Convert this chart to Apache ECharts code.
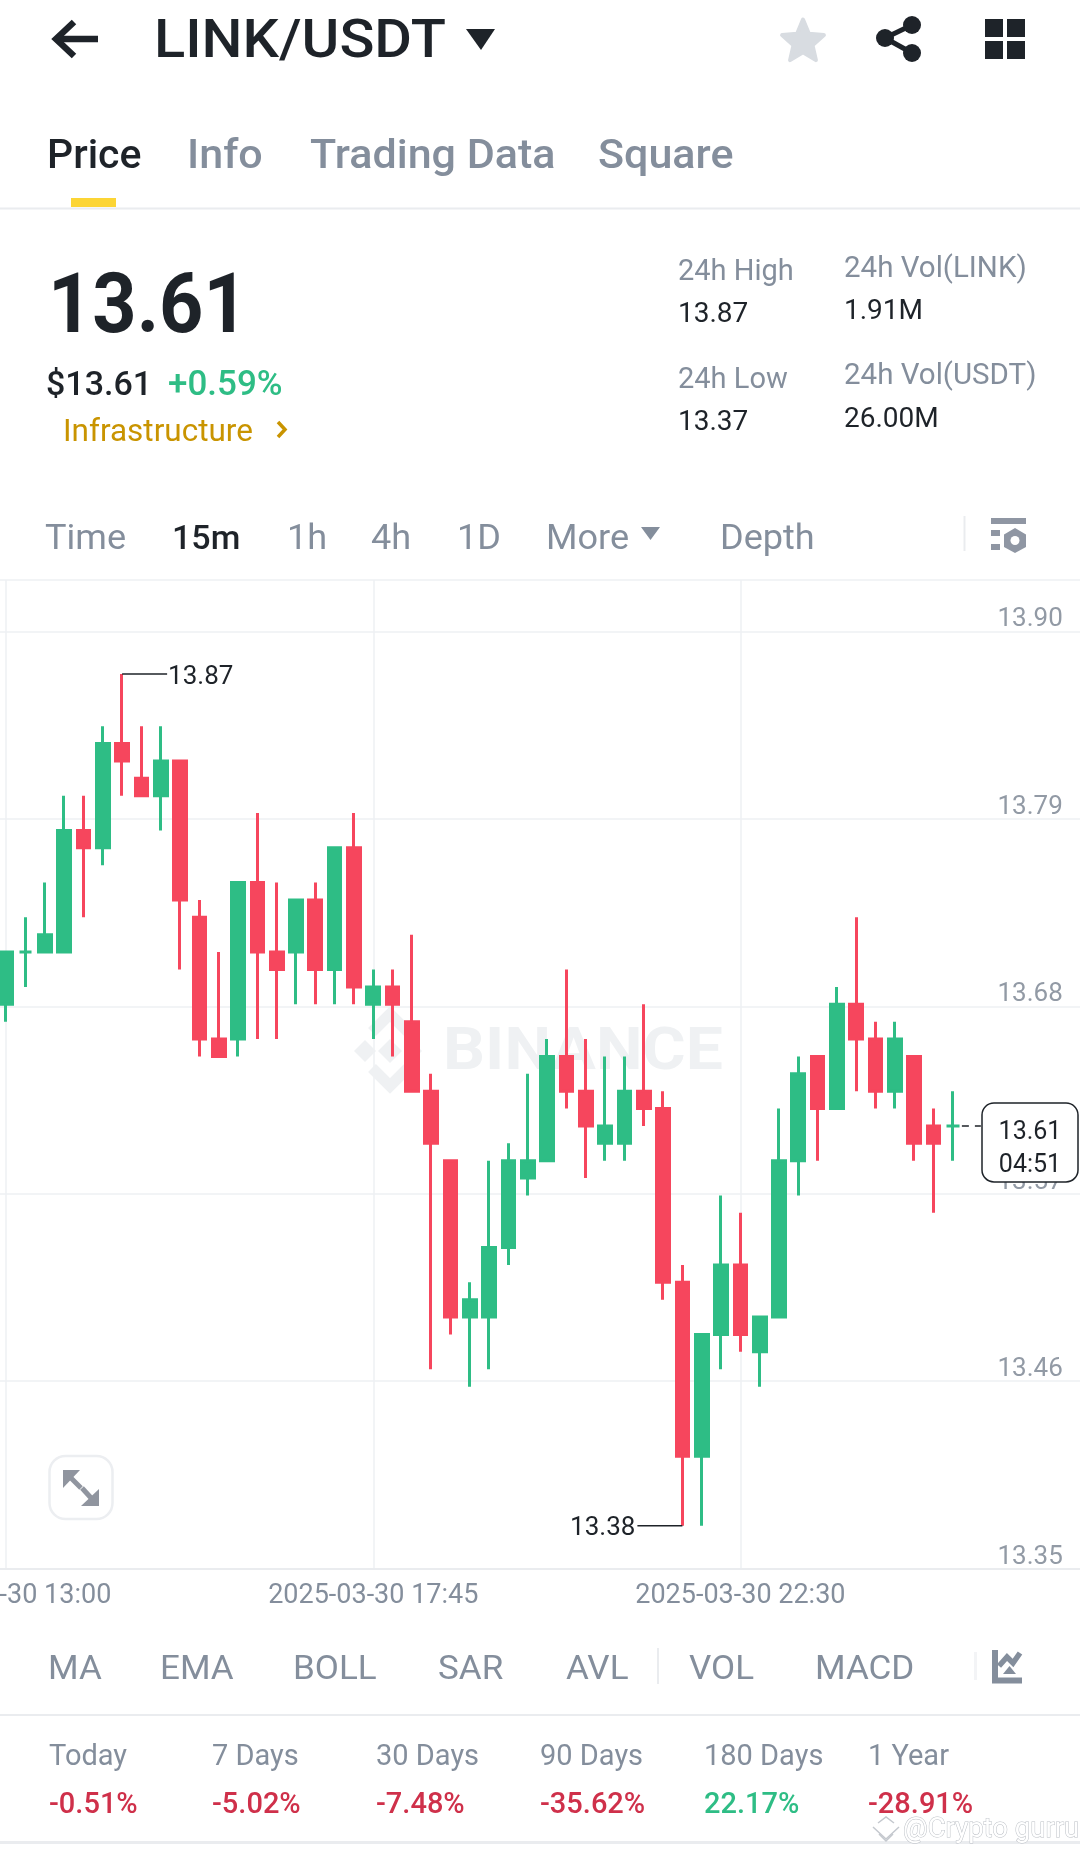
<!DOCTYPE html>
<html><head><meta charset="utf-8">
<style>html,body{margin:0;padding:0;background:#fff}#c{width:1080px;height:1850px}</style>
<script src="https://cdn.jsdelivr.net/npm/echarts@6/dist/echarts.min.js"></script>
</head><body><div id="c"></div>
<script>
const FONT = 'Roboto';
// ---- Chart data (15m candles) ----
const categories = [
'2025-03-30 13:00','2025-03-30 13:15','2025-03-30 13:30','2025-03-30 13:45','2025-03-30 14:00','2025-03-30 14:15','2025-03-30 14:30','2025-03-30 14:45',
'2025-03-30 15:00','2025-03-30 15:15','2025-03-30 15:30','2025-03-30 15:45','2025-03-30 16:00','2025-03-30 16:15','2025-03-30 16:30','2025-03-30 16:45',
'2025-03-30 17:00','2025-03-30 17:15','2025-03-30 17:30','2025-03-30 17:45','2025-03-30 18:00','2025-03-30 18:15','2025-03-30 18:30','2025-03-30 18:45',
'2025-03-30 19:00','2025-03-30 19:15','2025-03-30 19:30','2025-03-30 19:45','2025-03-30 20:00','2025-03-30 20:15','2025-03-30 20:30','2025-03-30 20:45',
'2025-03-30 21:00','2025-03-30 21:15','2025-03-30 21:30','2025-03-30 21:45','2025-03-30 22:00','2025-03-30 22:15','2025-03-30 22:30','2025-03-30 22:45',
'2025-03-30 23:00','2025-03-30 23:15','2025-03-30 23:30','2025-03-30 23:45','2025-03-31 00:00','2025-03-31 00:15','2025-03-31 00:30','2025-03-31 00:45',
'2025-03-31 01:00','2025-03-31 01:15','2025-03-31 01:30','2025-03-31 01:45','2025-03-31 02:00','2025-03-31 02:15','2025-03-31 02:30','2025-03-31 02:45','2025-03-31 03:00'];
const opens  = [13.68,13.71,13.71,13.71,13.78,13.77,13.83,13.81,13.80,13.82,13.73,13.66,13.66,13.75,13.71,13.71,13.74,13.70,13.77,13.68,13.69,13.67,13.63,13.59,13.50,13.50,13.54,13.58,13.59,13.65,13.63,13.60,13.60,13.63,13.62,13.52,13.42,13.49,13.53,13.48,13.50,13.59,13.65,13.62,13.68,13.66,13.63,13.65,13.61,13.61];
const closes = [13.71,13.71,13.72,13.78,13.77,13.83,13.82,13.80,13.82,13.74,13.66,13.65,13.75,13.71,13.70,13.74,13.70,13.77,13.69,13.69,13.68,13.63,13.60,13.50,13.51,13.54,13.59,13.59,13.65,13.63,13.61,13.61,13.63,13.62,13.52,13.42,13.49,13.53,13.49,13.50,13.59,13.64,13.62,13.68,13.66,13.63,13.66,13.60,13.60,13.61];
const lows   = [13.67,13.69,13.71,13.71,13.73,13.76,13.80,13.80,13.78,13.70,13.65,13.65,13.65,13.66,13.66,13.68,13.68,13.68,13.68,13.66,13.65,13.63,13.47,13.49,13.46,13.47,13.53,13.57,13.59,13.62,13.58,13.59,13.59,13.61,13.51,13.38,13.38,13.47,13.48,13.46,13.50,13.57,13.59,13.62,13.63,13.62,13.62,13.59,13.56,13.59];
const highs  = [13.71,13.73,13.75,13.80,13.80,13.84,13.87,13.84,13.84,13.82,13.74,13.71,13.75,13.79,13.75,13.74,13.75,13.77,13.79,13.70,13.70,13.72,13.64,13.59,13.52,13.59,13.60,13.64,13.66,13.70,13.66,13.65,13.65,13.68,13.63,13.53,13.49,13.57,13.56,13.50,13.62,13.65,13.65,13.69,13.73,13.67,13.67,13.65,13.62,13.63];
const yTickValues = [13.3553,13.4631,13.5710,13.6788,13.7867,13.8946];
const yTickLabels = ['13.35','13.46','13.57','13.68','13.79','13.90'];
const yMin = 13.3553, yMax = 13.9241;
const xLabelEvery = 19;
const highMark = {index:6, value:13.87, text:'13.87'};
const lowMark = {index:35, value:13.38, text:'13.38'};
const lastPrice = 13.61, countdown = '04:51';
// ---- Screen text ----
const tabs = ['Price','Info','Trading Data','Square'];
const intervals = ['Time','15m','1h','4h','1D','More','Depth'];
const indicators = ['MA','EMA','BOLL','SAR','AVL','VOL','MACD'];
const periodNames = ['Today','7 Days','30 Days','90 Days','180 Days','1 Year'];
const periodValues = ['-0.51%','-5.02%','-7.48%','-35.62%','22.17%','-28.91%'];

const UP='#2ebd85', DOWN='#f6465d', DARK='#1e2329', GREY='#848e9c', LINE='#eaecef';
const candles = opens.map((o,i)=>[o,closes[i],lows[i],highs[i]]);

const chart = echarts.init(document.getElementById('c'),null,{width:1080,height:1850});
chart.setOption({
  animation:false, backgroundColor:'#fff',
  grid:{left:-3.46,top:580,width:1101.24,height:988.6,containLabel:false,outerBoundsMode:'none'},
  xAxis:{type:'category',data:categories,boundaryGap:true,
    axisLine:{show:true,lineStyle:{color:LINE,width:2}},axisTick:{show:false},
    splitLine:{show:true,alignWithLabel:true,interval:(i)=>i%xLabelEvery===0,lineStyle:{color:'#eef0f3',width:1.5}},
    axisLabel:{interval:(i)=>i%xLabelEvery===0,color:GREY,fontFamily:FONT,fontSize:27,margin:14,hideOverlap:false,showMinLabel:true,alignMinLabel:'center'}},
  yAxis:{type:'value',position:'right',min:yMin,max:yMax,scale:true,
    axisLine:{show:false},
    axisTick:{show:false,customValues:yTickValues},
    splitLine:{show:true,lineStyle:{color:'#eef0f3',width:1.5}},
    axisLabel:{inside:true,customValues:yTickValues,margin:35,color:'#929aa5',fontFamily:FONT,fontSize:26,verticalAlign:'bottom',lineHeight:23,
      formatter:(v)=>yTickLabels[yTickValues.indexOf(v)]}},
  series:[{type:'candlestick',data:candles,barWidth:13.2,z:3,clip:false,
    itemStyle:{color:UP,color0:DOWN,borderColor:UP,borderColor0:DOWN,borderColorDoji:UP,borderWidth:3}}]
});

function T(text,x,y,size,color,weight,align,extra){
  return Object.assign({type:'text',x,y,z:10,silent:true,style:{text,fill:color,font:(weight||400)+' '+size+'px '+FONT,textAlign:align||'left',textVerticalAlign:'middle'}},extra||{});
}
function L(x1,y1,x2,y2,color,w,extra){return Object.assign({type:'line',z:10,silent:true,shape:{x1,y1,x2,y2},style:{stroke:color,lineWidth:w}},extra||{});}
function R(x,y,w,h,color,r,z){return {type:'rect',z:z||10,silent:true,shape:{x,y,width:w,height:h,r:r||0},style:{fill:color}};}
function P(points,color,z,extra){return Object.assign({type:'polygon',z:z||10,silent:true,shape:{points},style:{fill:color}},extra||{});}
function PL(points,color,w,z){return {type:'polyline',z:z||10,silent:true,shape:{points},style:{stroke:color,lineWidth:w,fill:null,lineJoin:'miter'}};}
function C(cx,cy,r,color){return {type:'circle',z:10,silent:true,shape:{cx,cy,r},style:{fill:color}};}

const g=[];
// Header
g.push(PL([[74,22],[56,39],[74,56]],DARK,6.5), L(57,39,98,39,DARK,6.5));
g.push(T('LINK/USDT',154,44,53,DARK,500,'left',{scaleX:1.09}));
g.push(P([[466,29],[495,29],[481,50]],DARK));
// star
(function(){const cx=803,cy=42,pts=[];for(let i=0;i<10;i++){const r=i%2?10:22;const a=-Math.PI/2+i*Math.PI/5;pts.push([cx+r*Math.cos(a),cy+r*Math.sin(a)*1.02]);}
 g.push({type:'polygon',z:10,silent:true,shape:{points:pts},style:{fill:'#d8dce1',stroke:'#d8dce1',lineWidth:4,lineJoin:'round'}});})();
// share
g.push(L(885,38,912,25,DARK,5),L(885,38,912,53,DARK,5),C(885,38,9,DARK),C(912,25,9,DARK),C(912,53,9,DARK));
// grid icon
g.push(R(985,19,18,18,DARK),R(1007,19,18,18,DARK),R(985,41,18,18,DARK),R(1007,41,18,18,DARK));
// Tabs
const tabX=[47,187,310,598];
tabs.forEach((t,i)=>g.push(T(t,tabX[i],158,41,i===0?DARK:GREY,500,'left',{scaleX:i===0?1:1.05})));
g.push(R(71,198,45,9,'#fcd535'),L(0,208.5,1080,208.5,LINE,2));
// Price block
g.push(T('13.61',48,311,84,DARK,700,'left',{scaleX:0.92}));
g.push(T('$13.61',46,386,34,DARK,500),T('+0.59%',168,386,35,UP,500));
g.push(T('Infrastructure',63,433,31,'#c99400',400,'left',{scaleX:1.016}));
g.push(PL([[278,422],[285,429.5],[278,437]],'#c99400',3.5));
g.push(T('24h High',678,272.5,29,GREY),T('13.87',678,315,28,DARK));
g.push(T('24h Low',678,380.5,29,GREY),T('13.37',678,423,28,DARK));
g.push(T('24h Vol(LINK)',844,269.5,29.5,GREY),T('1.91M',844,312,28,DARK));
g.push(T('24h Vol(USDT)',844,376.5,29.5,GREY),T('26.00M',844,420,28,DARK));
// interval row
const intX=[45,172,287,371,457,546,720];
intervals.forEach((t,i)=>g.push(T(t,intX[i],540.5,i===1?34:35,i===1?DARK:GREY,i===1?500:400,'left',{scaleX:i===1?1:1.03})));
g.push(P([[641,527],[660,527],[650.5,540]],GREY));
g.push(L(964.5,516,964.5,551,LINE,2));
g.push(R(991,518,35,6,'#8f96a3'),R(991,530,9,6,'#8f96a3'),R(991,544,9,6,'#8f96a3'));
g.push({type:'polygon',z:10,silent:true,shape:{points:[[1015,528],[1026,534.5],[1026,547],[1015,553],[1004,547],[1004,534.5]]},style:{fill:'#8f96a3'}},C(1015,540.5,4.5,'#fff'));
g.push(L(0,580,1080,580,'#eef0f3',1.5));
// Bottom
const indX=[48,160,293,438,566,689,815];
indicators.forEach((t,i)=>g.push(T(t,indX[i],1670,34,GREY,400,'left',{scaleX:1.03})));
g.push(L(658,1648,658,1684,LINE,2));
g.push(L(975.5,1652,975.5,1680,'#f3f4f6',3));
g.push(PL([[995,1650],[995,1680.5],[1022,1680.5]],'#848e9c',6));
g.push(PL([[999,1666],[1007,1657],[1013,1663],[1020,1653]],'#848e9c',5.5));
g.push(P([[1003,1674],[1016,1674],[1009.5,1666]],'#848e9c'));
g.push(L(0,1715,1080,1715,LINE,2));
const perX=[49,212,376,540,704,868];
periodNames.forEach((t,i)=>g.push(T(t,perX[i],1758,29,GREY)));
periodValues.forEach((t,i)=>g.push(T(t,perX[i],1806,29,t[0]==='-'?'#cf304a':UP,500)));
g.push(L(0,1842.5,1080,1842.5,LINE,3));
g.push({type:'text',x:903,y:1830,z:12,silent:true,style:{text:'@Crypto gurru',fill:'#ffffff',stroke:'#bcc0c6',lineWidth:1,font:'400 27.5px '+FONT,textVerticalAlign:'middle'}});
g.push(PL([[873,1827],[886,1839],[899,1827]],'#c4c8ce',1.5),PL([[878,1823],[886,1817],[894,1823]],'#c4c8ce',1.5),PL([[879,1834],[886,1841],[893,1834]],'#c4c8ce',1.5));
// watermark (below candles)
g.push({type:'text',x:443,y:1054,z:1,silent:true,scaleX:1.1,style:{text:'BINANCE',fill:'#eff1f3',font:'700 60px '+FONT,textVerticalAlign:'middle'}});
g.push({type:'polygon',z:1,silent:true,shape:{points:[[354,1051],[365,1040],[376,1051],[365,1062]]},style:{fill:'#eff1f3'}});
g.push(PL([[372,1032],[390,1014],[408,1032]],'#eff1f3',11,1),PL([[372,1068],[390,1086],[408,1068]],'#eff1f3',11,1));
g.push({type:'polygon',z:1,silent:true,shape:{points:[[390,1039],[402,1051],[390,1063],[378,1051]]},style:{fill:'#eff1f3'}});
g.push({type:'polygon',z:1,silent:true,shape:{points:[[414,1043],[422,1051],[414,1059],[406,1051]]},style:{fill:'#eff1f3'}});
// expand button
g.push({type:'rect',z:10,silent:true,shape:{x:49.5,y:1456,width:63,height:63,r:16},style:{fill:'#fff',stroke:'#eceef1',lineWidth:2.5}});
g.push(P([[63,1470],[80,1470],[63,1488]],'#90959f'),L(70,1477,81,1488,'#90959f',5),P([[99,1506],[81,1506],[99,1489]],'#90959f'),L(92,1499,82,1488,'#90959f',5));
// data-driven annotations
function px(i,v){return chart.convertToPixel({xAxisIndex:0,yAxisIndex:0},[categories[i],v]);}
const hi=px(highMark.index,highMark.value), lo=px(lowMark.index,lowMark.value), lp=px(49,lastPrice);
g.push(L(hi[0],hi[1],hi[0]+45,hi[1],DARK,1.5),T(highMark.text,hi[0]+46,hi[1]+3,26,DARK));
g.push(L(lo[0]-45,lo[1],lo[0],lo[1],DARK,1.5),T(lowMark.text,lo[0]-47,lo[1]+3,26,DARK,400,'right'));
g.push({type:'line',z:10,silent:true,shape:{x1:lp[0]+9,y1:lp[1],x2:lp[0]+28,y2:lp[1]},style:{stroke:DARK,lineWidth:1.5,lineDash:[7,6]}});
g.push({type:'rect',z:20,silent:true,shape:{x:982,y:lp[1]-23,width:96,height:79,r:12},style:{fill:'#fff',stroke:DARK,lineWidth:1.5}});
g.push(Object.assign(T(lastPrice.toFixed(2),1030,lp[1]+7,25,DARK,400,'center'),{z:21}),Object.assign(T(countdown,1030,lp[1]+40,25,DARK,400,'center'),{z:21}));
chart.setOption({graphic:{elements:g}});
</script></body></html>
